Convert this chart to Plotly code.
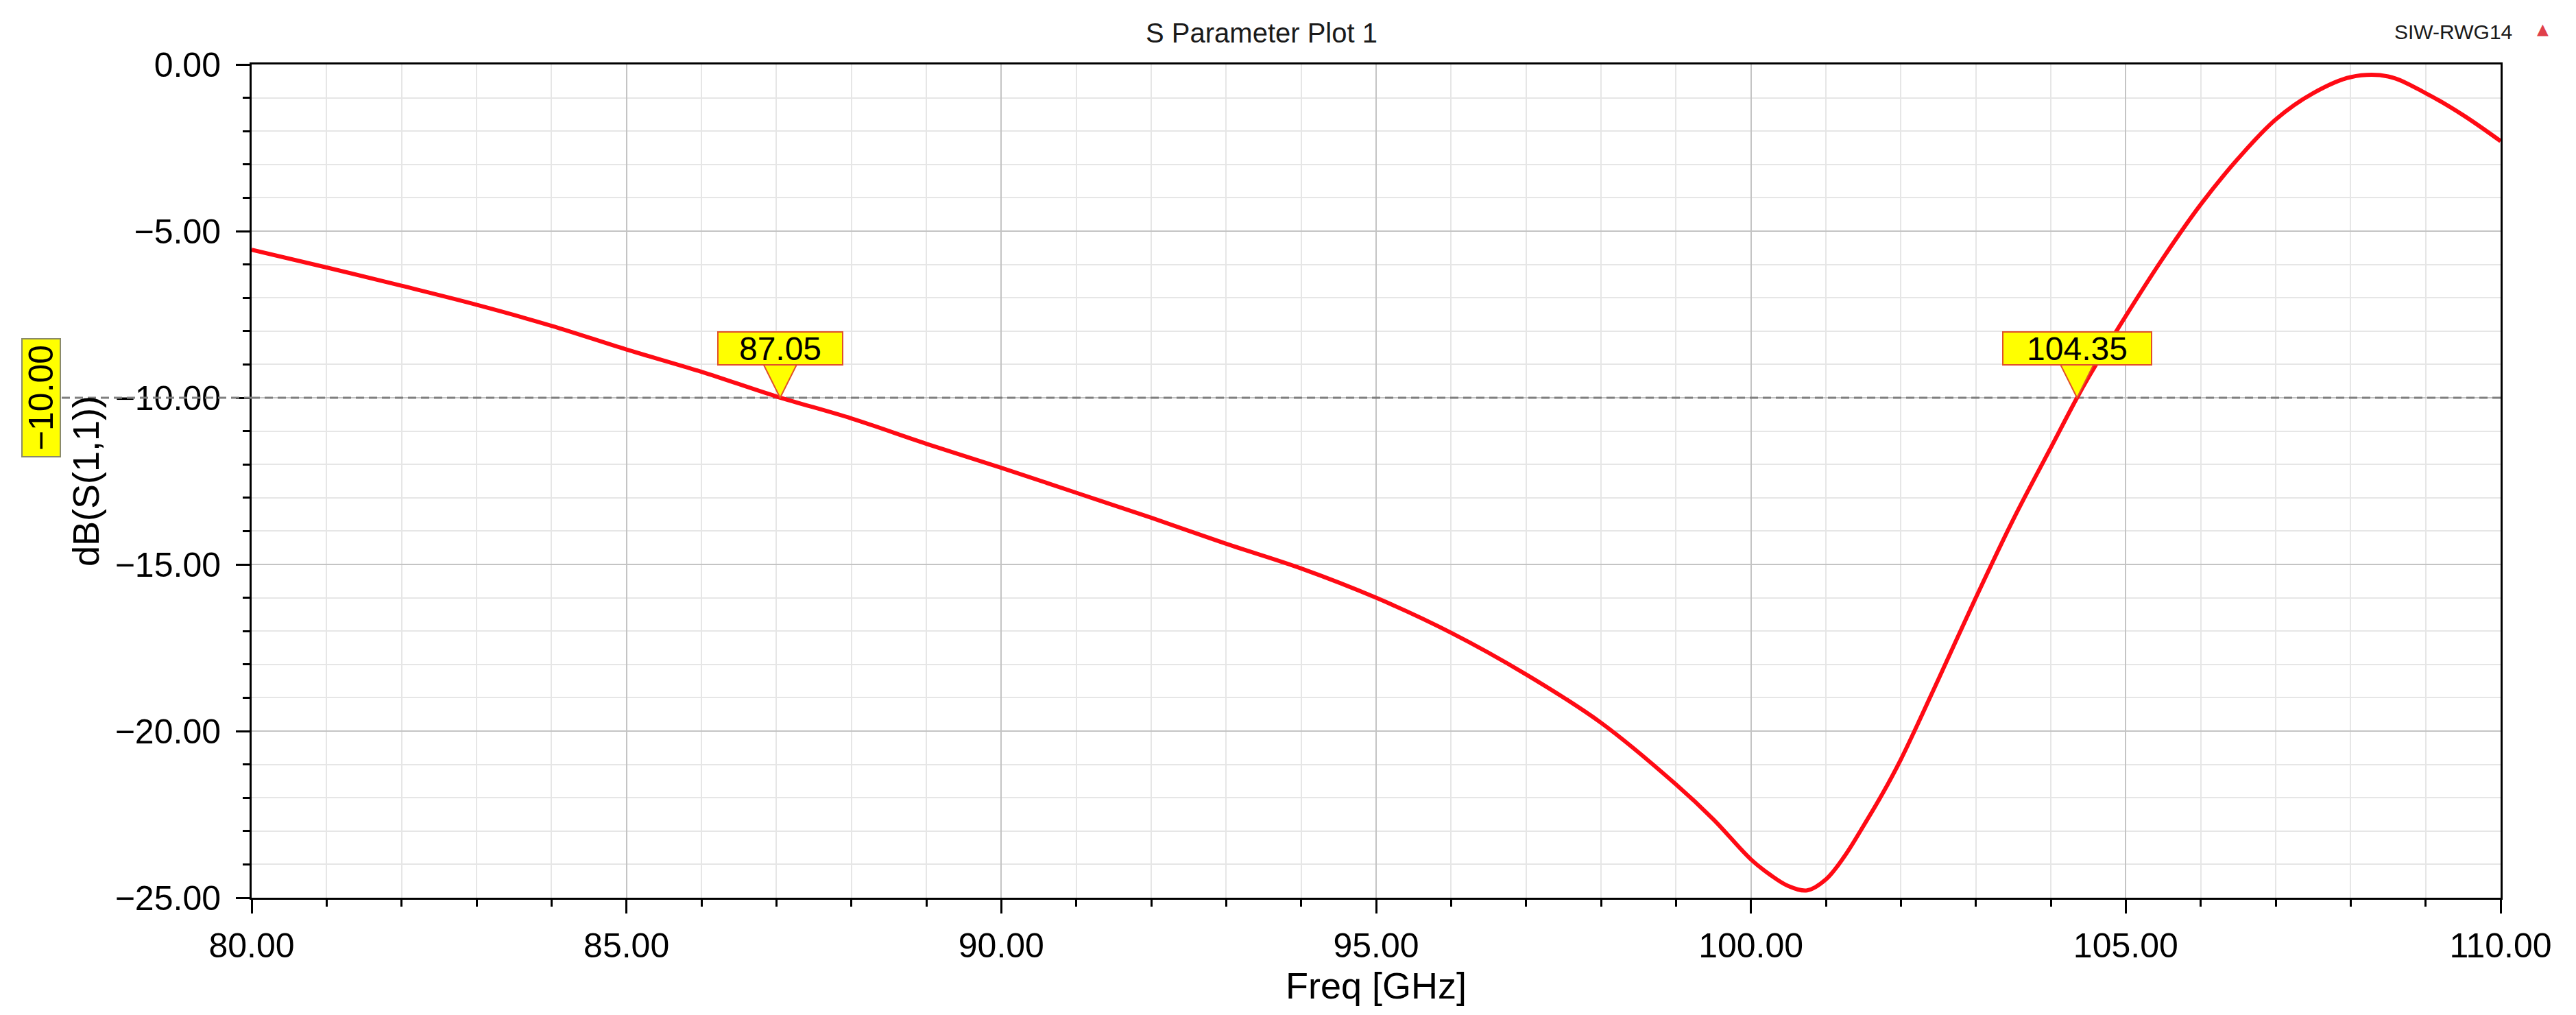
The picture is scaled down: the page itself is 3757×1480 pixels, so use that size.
import plotly.graph_objects as go

# ---------------- data ----------------
FREQ_GHZ = [80, 81, 82, 83, 84, 85, 86, 87, 88, 89, 90, 91, 92, 93, 94, 95, 96, 97,
            98, 99, 99.5, 100, 100.25, 100.5, 100.75, 101, 101.25, 101.5, 101.75,
            102, 102.5, 103, 103.5, 104, 104.35, 104.5, 105, 105.5, 106, 106.5,
            107, 107.5, 108, 108.5, 109, 109.5, 110]
S11_DB = [-5.56, -6.09, -6.64, -7.21, -7.84, -8.55, -9.22, -9.96, -10.62, -11.38,
          -12.10, -12.85, -13.60, -14.38, -15.12, -16.00, -17.05, -18.30,
          -19.75, -21.60, -22.65, -23.85, -24.30, -24.65, -24.78, -24.45, -23.75,
          -22.85, -21.90, -20.85, -18.45, -16.00, -13.65, -11.50, -10.00, -9.40,
          -7.55, -5.80, -4.20, -2.82, -1.65, -0.86, -0.38, -0.36, -0.86,
          -1.52, -2.30]
MARKER_FREQS = [87.05, 104.35]
MARKER_DB = -10.00
X_RANGE = [80, 110]
Y_RANGE = [-25, 0]
X_TICK_STEP = 5
Y_TICK_STEP = 5
TITLE = "S Parameter Plot 1"
TRACE_NAME = "SIW-RWG14"
X_TITLE = "Freq [GHz]"
Y_TITLE = "dB(S(1,1))"

# ---------------- styles ----------------
W, H = 3757, 1480
FONT = "Liberation Sans, Arial, Helvetica, sans-serif"
L, R, T, B = 367, 110, 94, 171
plot_w = W - L - R
plot_h = H - T - B


def px_x(px):
    """pixel column -> paper fraction"""
    return (px - L) / plot_w


def px_y(py):
    """pixel row -> paper fraction"""
    return (H - B - py) / plot_h


fig = go.Figure()
fig.add_trace(go.Scatter(
    x=FREQ_GHZ, y=S11_DB, mode="lines", name=TRACE_NAME,
    line=dict(color="#ff0a14", width=6, shape="spline", smoothing=1.0),
    showlegend=False, hoverinfo="x+y"))

axis_common = dict(
    tickformat=".2f", ticks="outside", ticklen=20, tickwidth=3, tickcolor="black",
    showline=True, linecolor="black", linewidth=3, mirror=True,
    showgrid=True, gridcolor="#c4c4c4", gridwidth=2, zeroline=False,
    tickfont=dict(family=FONT, size=50, color="black"),
    minor=dict(dtick=1, ticks="outside", ticklen=10, tickwidth=3, tickcolor="black",
               showgrid=True, gridcolor="#e6e6e6", gridwidth=2),
)

fig.update_layout(
    width=W, height=H,
    margin=dict(l=L, r=R, t=T, b=B),
    paper_bgcolor="white", plot_bgcolor="white",
    font=dict(family=FONT, color="black"),
    title=dict(text=TITLE, x=1840 / W, xref="container", xanchor="center",
               y=1 - 48 / H, yref="container", yanchor="middle",
               font=dict(family=FONT, size=40, color="#1a1a1a")),
    xaxis=dict(range=X_RANGE, dtick=X_TICK_STEP, tick0=X_RANGE[0],
               title=dict(text=X_TITLE, font=dict(family=FONT, size=54, color="black"),
                          standoff=8),
               ticklabelstandoff=4,
               **axis_common),
    yaxis=dict(range=Y_RANGE, dtick=Y_TICK_STEP, tick0=0,
               title=dict(text=Y_TITLE, font=dict(family=FONT, size=54, color="black"),
                          standoff=6),
               ticklabelstandoff=12,
               **axis_common),
)

# dashed -10 dB reference line: inside the plot ...
fig.add_shape(type="line", xref="x", yref="y",
              x0=X_RANGE[0], x1=X_RANGE[1], y0=MARKER_DB, y1=MARKER_DB,
              line=dict(color="#7f7f7f", width=3, dash="12px,7px"), layer="between")
# ... and its continuation to the left value tag
fig.add_shape(type="line", xref="paper", yref="y",
              x0=px_x(90), x1=0, y0=MARKER_DB, y1=MARKER_DB,
              line=dict(color="#7f7f7f", width=3, dash="12px,7px"), layer="above")

# marker pointers and labels
for f in MARKER_FREQS:
    fig.add_shape(type="path", xref="x", yref="y",
                  xsizemode="pixel", ysizemode="pixel",
                  xanchor=f, yanchor=MARKER_DB,
                  path="M0,0 L-24,48 L24,48 Z",
                  fillcolor="#ffff00", line=dict(color="#e0502a", width=2),
                  layer="above")
    txt = f"{f:.2f}"
    fig.add_annotation(x=f, y=MARKER_DB, xref="x", yref="y", text=txt,
                       showarrow=False, yshift=72, xanchor="center", yanchor="middle",
                       bgcolor="#ffff00", bordercolor="#e0502a", borderwidth=2,
                       borderpad=0, width=35 * len(txt) + 5, height=46,
                       font=dict(family=FONT, size=48, color="black"))

# rotated value tag on the left
fig.add_annotation(x=px_x(60), y=MARKER_DB, xref="paper", yref="y",
                   text=f"{MARKER_DB:.2f}".replace("-", "\u2212"), textangle=-90,
                   showarrow=False, xanchor="center", yanchor="middle",
                   bgcolor="#ffff00", bordercolor="#8a8a6a", borderwidth=2,
                   borderpad=0, width=170, height=54,
                   font=dict(family=FONT, size=50, color="black"))

# trace name (top right) and small icon
fig.add_annotation(x=px_x(3578), y=px_y(47), xref="paper", yref="paper",
                   text=TRACE_NAME, showarrow=False, xanchor="center", yanchor="middle",
                   font=dict(family=FONT, size=30, color="#1a1a1a"))
fig.add_annotation(x=px_x(3708), y=px_y(42), xref="paper", yref="paper",
                   text="\u25B2", showarrow=False, xanchor="center", yanchor="middle",
                   font=dict(family="DejaVu Sans", size=22, color="#e0404a"))

fig.write_html("out.html")
